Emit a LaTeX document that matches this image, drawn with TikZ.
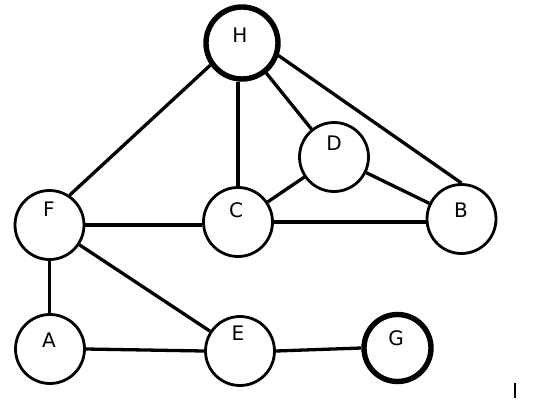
\documentclass[tikz,border=0pt]{standalone}
\usepackage{fontspec}
\setmainfont{DejaVu Sans}
\usetikzlibrary{backgrounds}
\begin{document}
\begin{tikzpicture}[x=1pt,y=-1pt,
  vtx/.style={circle,draw=black,fill=white,line width=2.8pt,minimum size=69pt,inner sep=0pt},
  thickvtx/.style={vtx,line width=5.4pt},
  lbl/.style={font=\fontsize{20}{22}\selectfont,inner sep=0pt},
  edge/.style={draw=black,line width=3.3pt}]
\useasboundingbox (0,0) rectangle (536,413);
\node[thickvtx,minimum size=72pt] (H) at (242,43) {};
\node[vtx] (D) at (334,157) {};
\node[vtx] (F) at (49.5,225) {};
\node[vtx] (C) at (238,222) {};
\node[vtx] (B) at (461.5,219) {};
\node[vtx] (A) at (50,349) {};
\node[vtx] (E) at (240,351) {};
\node[thickvtx,minimum size=67pt] (G) at (397.5,348) {};
\begin{scope}[on background layer]
\fill[white] (0,0) rectangle (536,413);
\draw[edge] (H.215) -- (F.56);
\draw[edge] (C.north) -- (C |- H.south);
\draw[edge] (H) -- (D);
\draw[edge] (H.-19) -- (B.north);
\draw[edge] (D) -- (C);
\draw[edge] (D) -- (B);
\draw[edge] (F.east) -- (C.west |- F.east);
\draw[edge] (C.east) -- (C.east -| B.west);
\draw[edge] (F.south) -- (F.south |- A.north);
\draw[edge] (F) -- (E);
\draw[edge] (A.east) -- (E.west);
\draw[edge] (E.east) -- (G.west);
\end{scope}
\node[lbl] (lH) at (240,35) {H};
\node[lbl] (lD) at (334,143) {D};
\node[lbl] (lF) at (49,209) {F};
\node[lbl] (lC) at (236,210) {C};
\node[lbl] (lB) at (461,210) {B};
\node[lbl] (lA) at (49,340) {A};
\node[lbl] (lE) at (238,333) {E};
\node[lbl] (lG) at (396,338) {G};
\coordinate (t1) at (515,383);
\coordinate (t2) at (515,398);
\draw[line width=1.3pt] (t1) -- (t2);
\end{tikzpicture}
\end{document}
